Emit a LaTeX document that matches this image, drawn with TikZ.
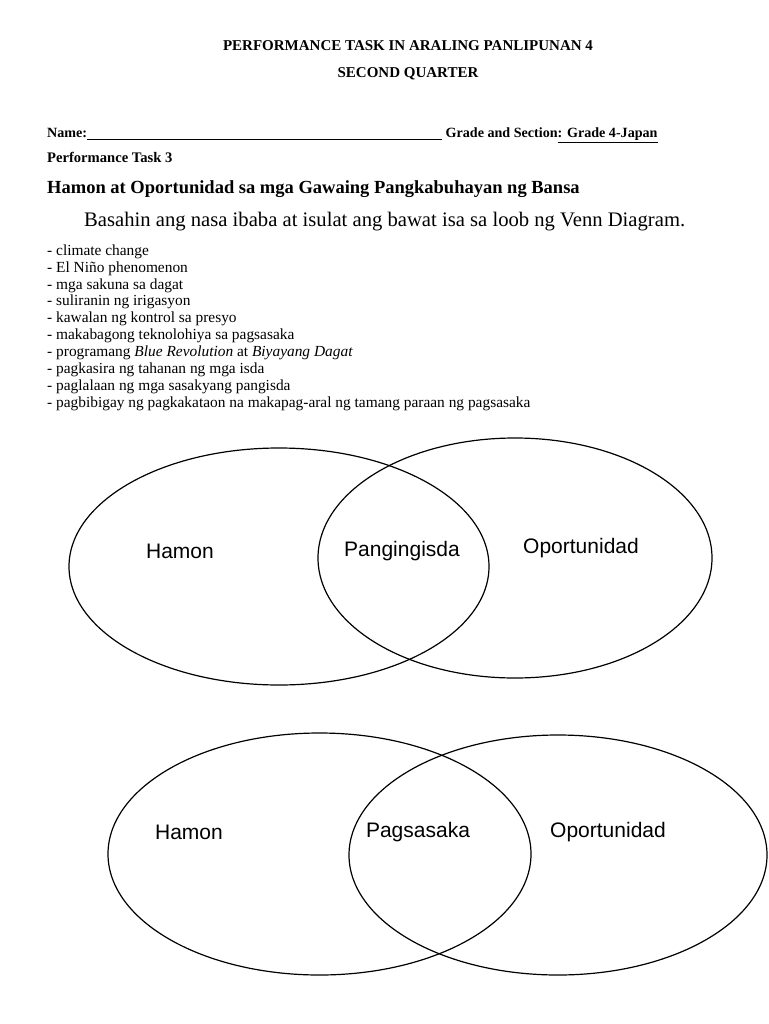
\documentclass[tikz,border=0pt]{standalone}
\usepackage{fontspec}
\setmainfont{Liberation Serif}
\newfontfamily\labelfont{Liberation Sans}
\usetikzlibrary{shapes.geometric}
\tikzset{
  venn/.style={draw, ellipse, line width=1.2pt, inner sep=0pt},
  lbl/.style={font=\labelfont\fontsize{21}{24}\selectfont, inner sep=0pt},
  txt/.style={anchor=base west, inner sep=0pt},
  hdr/.style={anchor=base, inner sep=0pt, font=\bfseries\fontsize{15}{18}\selectfont},
  item/.style={anchor=base west, inner sep=0pt, font=\fontsize{15.4}{17}\selectfont},
}
\begin{document}
\begin{tikzpicture}[x=1pt,y=-1pt]
\useasboundingbox[fill=white] (0,0) rectangle (768,1024);
% header
\node[hdr] (h1) at (408,51) {PERFORMANCE TASK IN ARALING PANLIPUNAN 4};
\node[hdr] (h2) at (408,78) {SECOND QUARTER};
\node[txt, font=\bfseries\fontsize{14.1}{17}\selectfont] (name) at (47,138)
  {Name:\underline{\hspace{355pt}} Grade and Section\underline{: Grade 4-Japan}};
\node[txt, font=\bfseries\fontsize{14.6}{17}\selectfont] (pt3) at (47,163) {Performance Task 3};
\node[txt, font=\bfseries\fontsize{18.5}{21}\selectfont] (title) at (47,194)
  {Hamon at Oportunidad sa mga Gawaing Pangkabuhayan ng Bansa};
\node[txt, font=\fontsize{20.65}{24}\selectfont] (instr) at (84,226)
  {Basahin ang nasa ibaba at isulat ang bawat isa sa loob ng Venn Diagram.};
% list
\node[item] (i1) at (47,255) {- climate change};
\node[item] (i2) at (47,272) {- El Niño phenomenon};
\node[item] (i3) at (47,289) {- mga sakuna sa dagat};
\node[item] (i4) at (47,305) {- suliranin ng irigasyon};
\node[item] (i5) at (47,322) {- kawalan ng kontrol sa presyo};
\node[item] (i6) at (47,339) {- makabagong teknolohiya sa pagsasaka};
\node[item] (i7) at (47,356) {- programang \textit{Blue Revolution} at \textit{Biyayang Dagat}};
\node[item] (i8) at (47,373) {- pagkasira ng tahanan ng mga isda};
\node[item] (i9) at (47,390) {- paglalaan ng mga sasakyang pangisda};
\node[item] (i10) at (47,407) {- pagbibigay ng pagkakataon na makapag-aral ng tamang paraan ng pagsasaka};
% venn 1
\node[venn, minimum width=420pt, minimum height=237pt] (A1) at (279,566.5) {};
\node[venn, minimum width=394pt, minimum height=240pt] (B1) at (515,558) {};
\node[lbl] (a1) at (180,551) {Hamon};
\node[lbl] (c1) at (402,551) {Pangingisda};
\node[lbl] (b1) at (581,548) {Oportunidad};
% venn 2
\node[venn, minimum width=423pt, minimum height=242pt] (A2) at (319.5,854) {};
\node[venn, minimum width=418pt, minimum height=240pt] (B2) at (558,855) {};
\node[lbl] (a2) at (189,832) {Hamon};
\node[lbl] (c2) at (418,832) {Pagsasaka};
\node[lbl] (b2) at (608,832) {Oportunidad};
\end{tikzpicture}
\end{document}
